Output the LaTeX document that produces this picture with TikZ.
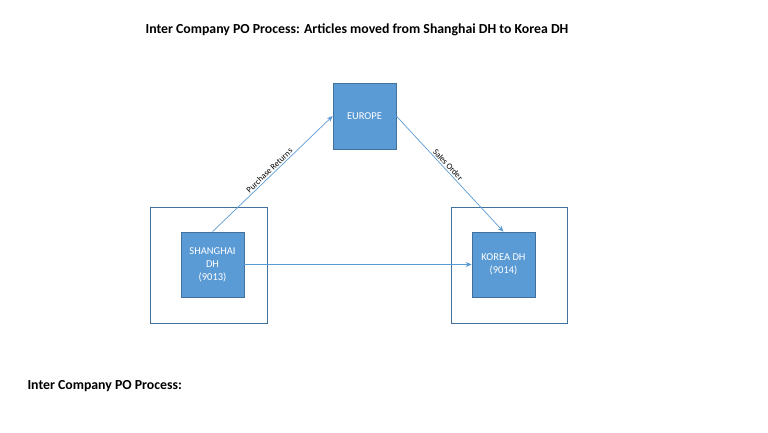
\documentclass[tikz,border=0pt]{standalone}
\usepackage{fontspec}
\setmainfont{Carlito}
\usetikzlibrary{arrows.meta}
\definecolor{boxfill}{HTML}{5B9BD5}
\definecolor{boxline}{HTML}{41719C}
\begin{document}
\begin{tikzpicture}[x=1pt,y=-1pt,
  blue box/.style={draw=boxline,fill=boxfill,text=white,font=\fontsize{10.5}{13}\selectfont,align=center,inner sep=0,line width=0.6pt},
  outer box/.style={draw=boxline,line width=0.6pt,inner sep=0},
  conn/.style={draw=boxfill,line width=0.7pt,-{Stealth[length=6pt,width=5pt]}},
  lbl/.style={font=\fontsize{8.5}{10}\selectfont,sloped,above,inner sep=1.5pt}]
\useasboundingbox (0,0) rectangle (768,433);
\node[font=\bfseries\fontsize{13.8}{16}\selectfont] (title) at (357,30) {Inter Company PO Process: Articles moved from Shanghai DH to Korea DH};
\node[outer box,minimum width=117,minimum height=116] (lo) at (208.5,265) {};
\node[outer box,minimum width=116,minimum height=116] (ro) at (509,265) {};
\node[blue box,minimum width=63,minimum height=66] (eu) at (364.5,116) {EUROPE};
\node[blue box,minimum width=63,minimum height=65] (sh) at (212.5,264.5) {SHANGHAI\\DH\\(9013)};
\node[blue box,minimum width=63,minimum height=65] (ko) at (503.5,264.5) {KOREA DH\\(9014)};
\draw[conn] (sh.north) -- node[lbl,pos=0.5]{Purchase Returns} (eu.west);
\draw[conn] (eu.east) -- node[lbl,pos=0.45]{Sales Order} (ko.north);
\draw[conn] (sh.east) -- (ko.west);
\node[font=\bfseries\fontsize{13.8}{16}\selectfont,anchor=west] (foot) at (24,386) {Inter Company PO Process:};
\end{tikzpicture}
\end{document}
